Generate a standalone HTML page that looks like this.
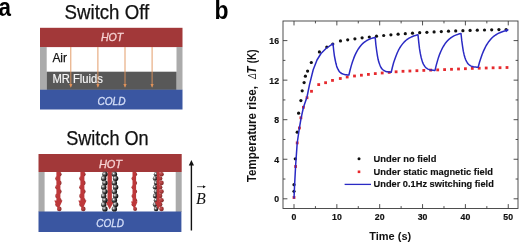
<!DOCTYPE html>
<html><head><meta charset="utf-8"><title>Thermal switch figure</title>
<style>
html,body{margin:0;padding:0;background:#fff;}
body{width:520px;height:244px;overflow:hidden;}
svg{display:block;filter:blur(0.45px);}
.sans{font-family:"Liberation Sans",sans-serif;}
.b{font-family:"Liberation Sans",sans-serif;font-weight:bold;}
.ser{font-family:"Liberation Serif",serif;font-style:italic;}
</style></head><body>
<svg width="520" height="244" viewBox="0 0 520 244">
<rect width="520" height="244" fill="#fff"/>
<text class="b" transform="translate(-1.6 15.6) scale(0.88 1)" font-size="25.5" fill="#000">a</text>
<text class="b" transform="translate(214.5 18.5) scale(0.9 1)" font-size="25.5" fill="#000">b</text>
<text class="sans" x="64.6" y="18.5" font-size="19.6" textLength="84.6" lengthAdjust="spacingAndGlyphs" fill="#111" stroke="#111" stroke-width="0.25">Switch Off</text>
<rect x="40" y="27.8" width="142.5" height="19.3" fill="#a23839"/>
<rect x="40" y="47" width="6.7" height="42.9" fill="#ababab"/>
<rect x="176.5" y="47" width="6" height="42.9" fill="#ababab"/>
<rect x="46.7" y="71.7" width="129.8" height="18.2" fill="#585858"/>
<rect x="40" y="89.7" width="142.5" height="19.8" fill="#3a56a1"/>
<text class="sans" x="112.1" y="41.2" font-size="10.6" font-style="italic" text-anchor="middle" fill="#f6d2d2" stroke="#f6d2d2" stroke-width="0.3">HOT</text>
<text class="sans" x="97.4" y="104.6" font-size="11" font-style="italic" textLength="28.2" lengthAdjust="spacingAndGlyphs" fill="#d4def8" stroke="#d4def8" stroke-width="0.35">COLD</text>
<text class="sans" x="52.4" y="62" font-size="12.6" textLength="14.6" lengthAdjust="spacingAndGlyphs" fill="#111" stroke="#111" stroke-width="0.25">Air</text>
<text class="sans" x="52.4" y="83.1" font-size="12.2" textLength="50.6" lengthAdjust="spacingAndGlyphs" fill="#f4f4f4" stroke="#f4f4f4" stroke-width="0.2">MR Fluids</text>
<path d="M70.8 47V86.5" stroke="#e0925a" stroke-width="0.9" fill="none"/><path d="M69.2 84L70.8 87.7L72.39999999999999 84Z" fill="#e0925a"/>
<path d="M97.9 47V86.5" stroke="#e0925a" stroke-width="0.9" fill="none"/><path d="M96.30000000000001 84L97.9 87.7L99.5 84Z" fill="#e0925a"/>
<path d="M125 47V86.5" stroke="#e0925a" stroke-width="0.9" fill="none"/><path d="M123.4 84L125 87.7L126.6 84Z" fill="#e0925a"/>
<path d="M152.1 47V86.5" stroke="#e0925a" stroke-width="0.9" fill="none"/><path d="M150.5 84L152.1 87.7L153.7 84Z" fill="#e0925a"/>
<text class="sans" x="66.2" y="144.8" font-size="19.6" textLength="82.4" lengthAdjust="spacingAndGlyphs" fill="#111" stroke="#111" stroke-width="0.25">Switch On</text>
<rect x="38.5" y="154" width="143.2" height="18" fill="#a23839"/>
<rect x="38.5" y="172" width="6.1" height="40" fill="#ababab"/>
<rect x="175.7" y="172" width="6" height="40" fill="#ababab"/>
<rect x="38.5" y="211.5" width="142.9" height="20.5" fill="#3a56a1"/>
<text class="sans" x="98.9" y="168.3" font-size="10.8" font-style="italic" textLength="23.2" lengthAdjust="spacingAndGlyphs" fill="#f6d2d2" stroke="#f6d2d2" stroke-width="0.3">HOT</text>
<text class="sans" x="96.3" y="227.2" font-size="11" font-style="italic" textLength="27.6" lengthAdjust="spacingAndGlyphs" fill="#d4def8" stroke="#d4def8" stroke-width="0.35">COLD</text>
<defs><radialGradient id="gb" cx="0.35" cy="0.35" r="0.7"><stop offset="0" stop-color="#ffffff"/><stop offset="0.3" stop-color="#808080"/><stop offset="0.65" stop-color="#2c2c2c"/><stop offset="1" stop-color="#050505"/></radialGradient><radialGradient id="rb" cx="0.35" cy="0.35" r="0.7"><stop offset="0" stop-color="#cc5a5a"/><stop offset="0.5" stop-color="#a83838"/><stop offset="1" stop-color="#7c2a2a"/></radialGradient></defs>
<circle cx="59.3" cy="174.2" r="2.3" fill="url(#rb)"/><circle cx="57.5" cy="178.5" r="2.3" fill="url(#rb)"/><circle cx="59.3" cy="182.9" r="2.3" fill="url(#rb)"/><circle cx="57.5" cy="187.2" r="2.3" fill="url(#rb)"/><circle cx="59.3" cy="191.6" r="2.3" fill="url(#rb)"/><circle cx="57.5" cy="195.9" r="2.3" fill="url(#rb)"/><circle cx="59.3" cy="200.2" r="2.3" fill="url(#rb)"/><circle cx="57.5" cy="204.6" r="2.3" fill="url(#rb)"/><circle cx="59.3" cy="208.9" r="2.3" fill="url(#rb)"/>
<path d="M56.4 172H60.4V200.5H62.5L58.4 209.5L54.3 200.5H56.4Z" fill="#bd383a"/>
<circle cx="83.3" cy="174.2" r="2.3" fill="url(#rb)"/><circle cx="81.5" cy="178.5" r="2.3" fill="url(#rb)"/><circle cx="83.3" cy="182.9" r="2.3" fill="url(#rb)"/><circle cx="81.5" cy="187.2" r="2.3" fill="url(#rb)"/><circle cx="83.3" cy="191.6" r="2.3" fill="url(#rb)"/><circle cx="81.5" cy="195.9" r="2.3" fill="url(#rb)"/><circle cx="83.3" cy="200.2" r="2.3" fill="url(#rb)"/><circle cx="81.5" cy="204.6" r="2.3" fill="url(#rb)"/><circle cx="83.3" cy="208.9" r="2.3" fill="url(#rb)"/>
<path d="M80.4 172H84.4V200.5H86.5L82.4 209.5L78.30000000000001 200.5H80.4Z" fill="#bd383a"/>
<path d="M107.5 172H111.9V202H113.7L109.7 209.5L105.7 202H107.5Z" fill="#bd383a"/>
<circle cx="104.9" cy="174.2" r="2.7" fill="url(#gb)"/><circle cx="103.7" cy="178.5" r="2.7" fill="url(#gb)"/><circle cx="104.9" cy="182.9" r="2.7" fill="url(#gb)"/><circle cx="103.7" cy="187.2" r="2.7" fill="url(#gb)"/><circle cx="104.9" cy="191.6" r="2.7" fill="url(#gb)"/><circle cx="103.7" cy="195.9" r="2.7" fill="url(#gb)"/><circle cx="104.9" cy="200.2" r="2.7" fill="url(#gb)"/><circle cx="103.7" cy="204.6" r="2.7" fill="url(#gb)"/><circle cx="104.9" cy="208.9" r="2.7" fill="url(#gb)"/>
<circle cx="114.4" cy="174.2" r="2.7" fill="url(#gb)"/><circle cx="115.6" cy="178.5" r="2.7" fill="url(#gb)"/><circle cx="114.4" cy="182.9" r="2.7" fill="url(#gb)"/><circle cx="115.6" cy="187.2" r="2.7" fill="url(#gb)"/><circle cx="114.4" cy="191.6" r="2.7" fill="url(#gb)"/><circle cx="115.6" cy="195.9" r="2.7" fill="url(#gb)"/><circle cx="114.4" cy="200.2" r="2.7" fill="url(#gb)"/><circle cx="115.6" cy="204.6" r="2.7" fill="url(#gb)"/><circle cx="114.4" cy="208.9" r="2.7" fill="url(#gb)"/>
<circle cx="135.1" cy="174.2" r="2.0" fill="url(#rb)"/><circle cx="133.5" cy="178.5" r="2.0" fill="url(#rb)"/><circle cx="135.1" cy="182.9" r="2.0" fill="url(#rb)"/><circle cx="133.5" cy="187.2" r="2.0" fill="url(#rb)"/><circle cx="135.1" cy="191.6" r="2.0" fill="url(#rb)"/><circle cx="133.5" cy="195.9" r="2.0" fill="url(#rb)"/><circle cx="135.1" cy="200.2" r="2.0" fill="url(#rb)"/><circle cx="133.5" cy="204.6" r="2.0" fill="url(#rb)"/><circle cx="135.1" cy="208.9" r="2.0" fill="url(#rb)"/>
<path d="M132.5 172H136.10000000000002V201.5H137.60000000000002L134.3 209.5L131.0 201.5H132.5Z" fill="#bd383a"/>
<circle cx="156.1" cy="174.2" r="2.3" fill="url(#gb)"/><circle cx="155.1" cy="178.5" r="2.3" fill="url(#gb)"/><circle cx="156.1" cy="182.9" r="2.3" fill="url(#gb)"/><circle cx="155.1" cy="187.2" r="2.3" fill="url(#gb)"/><circle cx="156.1" cy="191.6" r="2.3" fill="url(#gb)"/><circle cx="155.1" cy="195.9" r="2.3" fill="url(#gb)"/><circle cx="156.1" cy="200.2" r="2.3" fill="url(#gb)"/><circle cx="155.1" cy="204.6" r="2.3" fill="url(#gb)"/><circle cx="156.1" cy="208.9" r="2.3" fill="url(#gb)"/>
<circle cx="161.5" cy="174.2" r="2.3" fill="url(#rb)"/><circle cx="160.1" cy="178.5" r="2.3" fill="url(#rb)"/><circle cx="161.5" cy="182.9" r="2.3" fill="url(#rb)"/><circle cx="160.1" cy="187.2" r="2.3" fill="url(#rb)"/><circle cx="161.5" cy="191.6" r="2.3" fill="url(#rb)"/><circle cx="160.1" cy="195.9" r="2.3" fill="url(#rb)"/><circle cx="161.5" cy="200.2" r="2.3" fill="url(#rb)"/><circle cx="160.1" cy="204.6" r="2.3" fill="url(#rb)"/><circle cx="161.5" cy="208.9" r="2.3" fill="url(#rb)"/>
<path d="M156.7 172H159.7V201.5H161.6L158.2 209.5L154.79999999999998 201.5H156.7Z" fill="#bd383a"/>
<path d="M191.4 230.5V164" stroke="#111" stroke-width="1.4" fill="none"/><path d="M188.8 165.6L191.4 160L194 165.6Z" fill="#111"/>
<text class="ser" x="196" y="204" font-size="16" fill="#111">B</text>
<path d="M197 186.7H204.5" stroke="#111" stroke-width="0.7" fill="none"/><path d="M203 185.2L205.8 186.7L203 188.2Z" fill="#111"/>
<rect x="283.0" y="21.0" width="235.0" height="187.5" fill="none" stroke="#3c3c3c" stroke-width="0.9"/>
<path d="M294.00 208.5v-4.4M294.00 21.0v4.4M315.43 208.5v-2.4M315.43 21.0v2.4M336.85 208.5v-4.4M336.85 21.0v4.4M358.27 208.5v-2.4M358.27 21.0v2.4M379.70 208.5v-4.4M379.70 21.0v4.4M401.12 208.5v-2.4M401.12 21.0v2.4M422.55 208.5v-4.4M422.55 21.0v4.4M443.98 208.5v-2.4M443.98 21.0v2.4M465.40 208.5v-4.4M465.40 21.0v4.4M486.83 208.5v-2.4M486.83 21.0v2.4M508.25 208.5v-4.4M508.25 21.0v4.4M283.0 198.80h4.4M518.0 198.80h-4.4M283.0 179.03h2.4M518.0 179.03h-2.4M283.0 159.25h4.4M518.0 159.25h-4.4M283.0 139.48h2.4M518.0 139.48h-2.4M283.0 119.70h4.4M518.0 119.70h-4.4M283.0 99.93h2.4M518.0 99.93h-2.4M283.0 80.15h4.4M518.0 80.15h-4.4M283.0 60.38h2.4M518.0 60.38h-2.4M283.0 40.60h4.4M518.0 40.60h-4.4" stroke="#3c3c3c" stroke-width="0.9" fill="none"/>
<text class="b" transform="translate(294.0 220.3) scale(0.92 1)" font-size="9.5" text-anchor="middle" fill="#111" stroke="#111" stroke-width="0.2">0</text><text class="b" transform="translate(336.9 220.3) scale(0.92 1)" font-size="9.5" text-anchor="middle" fill="#111" stroke="#111" stroke-width="0.2">10</text><text class="b" transform="translate(379.7 220.3) scale(0.92 1)" font-size="9.5" text-anchor="middle" fill="#111" stroke="#111" stroke-width="0.2">20</text><text class="b" transform="translate(422.6 220.3) scale(0.92 1)" font-size="9.5" text-anchor="middle" fill="#111" stroke="#111" stroke-width="0.2">30</text><text class="b" transform="translate(465.4 220.3) scale(0.92 1)" font-size="9.5" text-anchor="middle" fill="#111" stroke="#111" stroke-width="0.2">40</text><text class="b" transform="translate(508.2 220.3) scale(0.92 1)" font-size="9.5" text-anchor="middle" fill="#111" stroke="#111" stroke-width="0.2">50</text>
<text class="b" transform="translate(279 202.2) scale(0.92 1)" font-size="9.5" text-anchor="end" fill="#111" stroke="#111" stroke-width="0.2">0</text><text class="b" transform="translate(279 162.7) scale(0.92 1)" font-size="9.5" text-anchor="end" fill="#111" stroke="#111" stroke-width="0.2">4</text><text class="b" transform="translate(279 123.1) scale(0.92 1)" font-size="9.5" text-anchor="end" fill="#111" stroke="#111" stroke-width="0.2">8</text><text class="b" transform="translate(279 83.6) scale(0.92 1)" font-size="9.5" text-anchor="end" fill="#111" stroke="#111" stroke-width="0.2">12</text><text class="b" transform="translate(279 44.0) scale(0.92 1)" font-size="9.5" text-anchor="end" fill="#111" stroke="#111" stroke-width="0.2">16</text>
<text class="b" x="369.2" y="239.6" font-size="11" textLength="42" lengthAdjust="spacingAndGlyphs" fill="#111">Time (s)</text>
<text class="b" transform="translate(256 182.2) rotate(-90)" font-size="11.9" textLength="96.2" lengthAdjust="spacingAndGlyphs" fill="#111">Temperature rise,</text>
<text class="sans" transform="translate(256 79) rotate(-90)" font-size="11.5" font-style="italic" textLength="5.8" lengthAdjust="spacingAndGlyphs" fill="#222">Δ</text>
<text class="b" transform="translate(256 73.4) rotate(-90)" font-size="11.9" font-style="italic" textLength="6.9" lengthAdjust="spacingAndGlyphs" fill="#111">T</text>
<text class="b" transform="translate(256 63.2) rotate(-90)" font-size="11.9" textLength="13.8" lengthAdjust="spacingAndGlyphs" fill="#111">(K)</text>
<rect x="292.6" y="196.1" width="2.8" height="2.8" fill="#e62a2e"/><rect x="294.2" y="165.1" width="2.8" height="2.8" fill="#e62a2e"/><rect x="295.8" y="141.5" width="2.8" height="2.8" fill="#e62a2e"/><rect x="298.0" y="126.6" width="2.8" height="2.8" fill="#e62a2e"/><rect x="299.5" y="116.4" width="2.8" height="2.8" fill="#e62a2e"/><rect x="302.0" y="105.9" width="2.8" height="2.8" fill="#e62a2e"/><rect x="305.6" y="96.3" width="2.8" height="2.8" fill="#e62a2e"/><rect x="310.1" y="89.9" width="2.8" height="2.8" fill="#e62a2e"/><rect x="317.3" y="83.2" width="2.8" height="2.8" fill="#e62a2e"/><rect x="324.2" y="81.3" width="2.8" height="2.8" fill="#e62a2e"/><rect x="331.1" y="79.0" width="2.8" height="2.8" fill="#e62a2e"/><rect x="338.9" y="77.1" width="2.8" height="2.8" fill="#e62a2e"/><rect x="345.8" y="75.6" width="2.8" height="2.8" fill="#e62a2e"/><rect x="353.1" y="74.6" width="2.8" height="2.8" fill="#e62a2e"/><rect x="360.0" y="73.8" width="2.8" height="2.8" fill="#e62a2e"/><rect x="367.0" y="73.0" width="2.8" height="2.8" fill="#e62a2e"/><rect x="373.9" y="72.2" width="2.8" height="2.8" fill="#e62a2e"/><rect x="380.8" y="71.6" width="2.8" height="2.8" fill="#e62a2e"/><rect x="387.8" y="71.0" width="2.8" height="2.8" fill="#e62a2e"/><rect x="394.7" y="70.4" width="2.8" height="2.8" fill="#e62a2e"/><rect x="401.6" y="69.9" width="2.8" height="2.8" fill="#e62a2e"/><rect x="408.5" y="69.6" width="2.8" height="2.8" fill="#e62a2e"/><rect x="415.5" y="69.3" width="2.8" height="2.8" fill="#e62a2e"/><rect x="422.4" y="69.0" width="2.8" height="2.8" fill="#e62a2e"/><rect x="429.3" y="68.7" width="2.8" height="2.8" fill="#e62a2e"/><rect x="436.3" y="68.5" width="2.8" height="2.8" fill="#e62a2e"/><rect x="443.2" y="68.2" width="2.8" height="2.8" fill="#e62a2e"/><rect x="450.1" y="67.9" width="2.8" height="2.8" fill="#e62a2e"/><rect x="457.1" y="67.6" width="2.8" height="2.8" fill="#e62a2e"/><rect x="464.0" y="67.3" width="2.8" height="2.8" fill="#e62a2e"/><rect x="470.9" y="67.0" width="2.8" height="2.8" fill="#e62a2e"/><rect x="477.8" y="66.8" width="2.8" height="2.8" fill="#e62a2e"/><rect x="484.8" y="66.6" width="2.8" height="2.8" fill="#e62a2e"/><rect x="491.7" y="66.4" width="2.8" height="2.8" fill="#e62a2e"/><rect x="498.6" y="66.3" width="2.8" height="2.8" fill="#e62a2e"/><rect x="505.6" y="66.1" width="2.8" height="2.8" fill="#e62a2e"/>
<circle cx="294.0" cy="191.3" r="1.6" fill="#111"/><circle cx="294.0" cy="184.7" r="1.6" fill="#111"/><circle cx="295.3" cy="158.8" r="1.6" fill="#111"/><circle cx="297.2" cy="132.2" r="1.6" fill="#111"/><circle cx="298.6" cy="113.2" r="1.6" fill="#111"/><circle cx="300.9" cy="100.6" r="1.6" fill="#111"/><circle cx="302.2" cy="90.8" r="1.6" fill="#111"/><circle cx="304.1" cy="82.6" r="1.6" fill="#111"/><circle cx="305.4" cy="76.2" r="1.6" fill="#111"/><circle cx="307.6" cy="71.1" r="1.6" fill="#111"/><circle cx="311.3" cy="62.5" r="1.6" fill="#111"/><circle cx="319.4" cy="51.9" r="1.6" fill="#111"/><circle cx="326.8" cy="47.0" r="1.6" fill="#111"/><circle cx="332.8" cy="44.0" r="1.6" fill="#111"/><circle cx="340.5" cy="40.9" r="1.6" fill="#111"/><circle cx="347.7" cy="39.8" r="1.6" fill="#111"/><circle cx="354.9" cy="38.8" r="1.6" fill="#111"/><circle cx="362.1" cy="37.8" r="1.6" fill="#111"/><circle cx="369.3" cy="37.0" r="1.6" fill="#111"/><circle cx="376.5" cy="36.2" r="1.6" fill="#111"/><circle cx="383.7" cy="35.5" r="1.6" fill="#111"/><circle cx="390.9" cy="34.8" r="1.6" fill="#111"/><circle cx="398.1" cy="34.2" r="1.6" fill="#111"/><circle cx="405.3" cy="33.7" r="1.6" fill="#111"/><circle cx="412.5" cy="33.2" r="1.6" fill="#111"/><circle cx="419.7" cy="32.7" r="1.6" fill="#111"/><circle cx="426.9" cy="32.3" r="1.6" fill="#111"/><circle cx="434.1" cy="31.9" r="1.6" fill="#111"/><circle cx="441.3" cy="31.6" r="1.6" fill="#111"/><circle cx="448.5" cy="31.2" r="1.6" fill="#111"/><circle cx="455.7" cy="30.9" r="1.6" fill="#111"/><circle cx="462.9" cy="30.7" r="1.6" fill="#111"/><circle cx="470.1" cy="30.4" r="1.6" fill="#111"/><circle cx="477.3" cy="30.2" r="1.6" fill="#111"/><circle cx="484.5" cy="30.0" r="1.6" fill="#111"/><circle cx="491.7" cy="29.8" r="1.6" fill="#111"/><circle cx="498.9" cy="29.6" r="1.6" fill="#111"/><circle cx="506.1" cy="29.5" r="1.6" fill="#111"/>
<path d="M294.0 198.5L294.6 185.0L295.6 166.0L297.2 143.0L299.4 128.0L301.0 118.6L303.4 107.5L307.0 97.0L309.5 84.6L313.2 69.8L317.0 60.0L321.0 53.5L326.0 48.5L333.0 43.6L333.7 50.5L334.4 55.8L335.2 60.0L335.9 63.3L336.6 65.9L337.3 67.9L338.1 69.5L338.8 70.7L339.5 71.7L340.2 72.4L340.9 73.0L341.7 73.5L342.4 73.8L343.1 74.1L343.8 74.3L344.6 74.5L345.3 74.7L346.0 74.8L346.7 74.8L347.5 74.9L348.2 75.0L348.9 75.0L350.1 70.0L351.3 65.6L352.5 61.7L353.7 58.4L354.9 55.4L356.1 52.9L357.3 50.7L358.5 48.7L359.7 47.0L360.9 45.5L362.0 44.3L363.2 43.1L364.4 42.2L365.6 41.3L366.8 40.5L368.0 39.9L369.2 39.3L370.4 38.8L371.6 38.4L372.8 38.0L374.0 37.7L375.2 37.4L375.9 45.0L376.7 51.0L377.4 55.6L378.1 59.3L378.8 62.1L379.6 64.3L380.3 66.1L381.0 67.5L381.7 68.5L382.5 69.4L383.2 70.0L383.9 70.5L384.7 70.9L385.4 71.2L386.1 71.5L386.8 71.7L387.6 71.8L388.3 71.9L389.0 72.0L389.7 72.1L390.5 72.2L391.2 72.2L392.4 67.2L393.6 62.8L394.9 59.0L396.1 55.7L397.3 52.7L398.5 50.2L399.7 48.0L400.9 46.1L402.2 44.4L403.4 42.9L404.6 41.6L405.8 40.5L407.0 39.5L408.3 38.7L409.5 37.9L410.7 37.3L411.9 36.7L413.1 36.2L414.3 35.8L415.6 35.4L416.8 35.1L418.0 34.8L418.8 42.6L419.5 48.7L420.3 53.4L421.1 57.2L421.9 60.1L422.6 62.4L423.4 64.1L424.2 65.5L425.0 66.6L425.7 67.5L426.5 68.2L427.3 68.7L428.0 69.1L428.8 69.4L429.6 69.7L430.4 69.9L431.1 70.0L431.9 70.1L432.7 70.2L433.5 70.3L434.2 70.4L435.0 70.4L436.2 65.4L437.4 61.1L438.5 57.4L439.7 54.1L440.9 51.2L442.1 48.7L443.3 46.5L444.5 44.6L445.6 42.9L446.8 41.5L448.0 40.2L449.2 39.1L450.4 38.2L451.5 37.3L452.7 36.6L453.9 35.9L455.1 35.4L456.3 34.9L457.5 34.5L458.6 34.1L459.8 33.8L461.0 33.5L461.8 40.9L462.6 46.7L463.3 51.2L464.1 54.7L464.9 57.5L465.7 59.7L466.5 61.4L467.3 62.7L468.0 63.7L468.8 64.5L469.6 65.2L470.4 65.7L471.2 66.1L471.9 66.4L472.7 66.6L473.5 66.8L474.3 66.9L475.1 67.0L475.9 67.1L476.6 67.2L477.4 67.3L478.2 67.3L479.5 62.3L480.9 58.0L482.2 54.2L483.6 50.9L484.9 48.1L486.2 45.5L487.6 43.4L488.9 41.4L490.3 39.8L491.6 38.3L492.9 37.0L494.3 35.9L495.6 35.0L497.0 34.1L498.3 33.4L499.7 32.8L501.0 32.2L502.3 31.7L503.7 31.3L505.0 30.9L506.4 30.6L507.7 30.3" stroke="#2a2ac4" stroke-width="1.5" fill="none" stroke-linejoin="round"/>
<path d="M506 32.2L509.2 29.8L505.4 29Z" fill="#2a2ac4"/>
<circle cx="359" cy="158.8" r="1.5" fill="#111"/><rect x="357.7" y="170.5" width="2.6" height="2.6" fill="#e8262a"/><path d="M344.6 184.4H371" stroke="#2a2ac4" stroke-width="1.3"/>
<text class="b" x="373.6" y="161.7" font-size="9.3" textLength="62.8" lengthAdjust="spacingAndGlyphs" fill="#111" stroke="#111" stroke-width="0.15">Under no field</text>
<text class="b" x="373.6" y="174.5" font-size="9.3" textLength="119.4" lengthAdjust="spacingAndGlyphs" fill="#111" stroke="#111" stroke-width="0.15">Under static magnetic field</text>
<text class="b" x="373.6" y="187" font-size="9.3" textLength="120.2" lengthAdjust="spacingAndGlyphs" fill="#111" stroke="#111" stroke-width="0.15">Under 0.1Hz switching field</text>
</svg>
</body></html>
